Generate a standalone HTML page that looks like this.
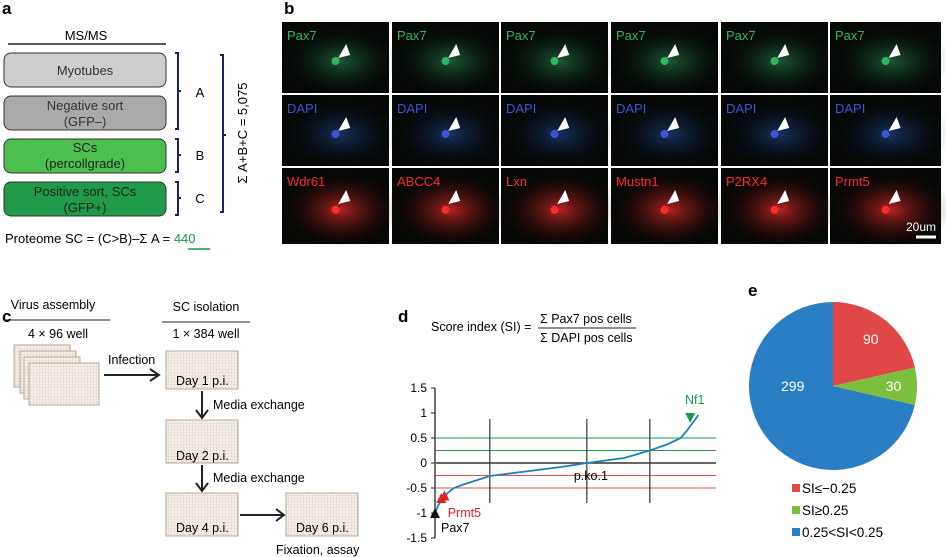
<!DOCTYPE html>
<html><head><meta charset="utf-8"><style>
body{margin:0;width:946px;height:557px;background:#fff;overflow:hidden;font-family:"Liberation Sans",sans-serif}
svg{position:absolute;left:0;top:0}
</style></head><body>
<svg width="946" height="557" viewBox="0 0 946 557" font-family="Liberation Sans, sans-serif">
<defs>
<pattern id="grid" width="3" height="3" patternUnits="userSpaceOnUse"><rect width="3" height="3" fill="#f4efe8"/><path d="M0 0H3M0 0V3" stroke="#cfc3b5" stroke-width="0.6"/></pattern>
<radialGradient id="gG"><stop offset="0" stop-color="#3fd080"/><stop offset="1" stop-color="#0a1a10" stop-opacity="0"/></radialGradient>
<radialGradient id="gB"><stop offset="0" stop-color="#3070e0"/><stop offset="1" stop-color="#0a0a20" stop-opacity="0"/></radialGradient>
<radialGradient id="gR"><stop offset="0" stop-color="#ff3030"/><stop offset="1" stop-color="#200505" stop-opacity="0"/></radialGradient>
</defs>

<!-- Panel a -->
<g>
<text x="2" y="14" font-size="17" font-weight="bold">a</text>
<text x="86" y="40" font-size="13" text-anchor="middle">MS/MS</text>
<line x1="8" y1="44" x2="166" y2="44" stroke="#222" stroke-width="1.5"/>
<rect x="4" y="53" width="162" height="34" rx="7" fill="#cdcdcd" stroke="#333"/>
<text x="85" y="75" font-size="13" text-anchor="middle" fill="#333">Myotubes</text>
<rect x="4" y="96" width="162" height="34" rx="7" fill="#a9a9a9" stroke="#333"/>
<text x="85" y="110" font-size="13" text-anchor="middle" fill="#333">Negative sort</text>
<text x="85" y="126" font-size="13" text-anchor="middle" fill="#333">(GFP–)</text>
<rect x="4" y="139" width="162" height="34" rx="7" fill="#4bbf4e" stroke="#333"/>
<text x="85" y="152" font-size="13" text-anchor="middle" fill="#222">SCs</text>
<text x="85" y="168" font-size="13" text-anchor="middle" fill="#222">(percollgrade)</text>
<rect x="4" y="182" width="162" height="34" rx="7" fill="#1f9a48" stroke="#333"/>
<text x="85" y="196" font-size="13" text-anchor="middle" fill="#222">Positive sort, SCs</text>
<text x="85" y="212" font-size="13" text-anchor="middle" fill="#222">(GFP+)</text>
<g stroke="#1a2060" stroke-width="2" fill="none">
<path d="M175 53h3v76h-3M178 91h3"/>
<path d="M175 139h3v33h-3M178 155h3"/>
<path d="M175 182h3v33h-3M178 198h3"/>
<path d="M220 55h3v157h-3M223 135h3"/>
</g>
<text x="200" y="97" font-size="13" text-anchor="middle">A</text>
<text x="200" y="160" font-size="13" text-anchor="middle">B</text>
<text x="200" y="203" font-size="13" text-anchor="middle">C</text>
<text x="247" y="133" font-size="13" text-anchor="middle" transform="rotate(-90 247 133)">Σ A+B+C = 5,075</text>
<text x="5" y="243" font-size="13">Proteome SC = (C&gt;B)–Σ A = <tspan fill="#1a9a48">440</tspan></text>
<line x1="188" y1="249" x2="210" y2="249" stroke="#1a9a48" stroke-width="1.5"/>
</g>

<!-- Panel b -->
<g>
<text x="284" y="14" font-size="17" font-weight="bold">b</text>
<g id="micro"></g>
</g>

<!-- Panel c -->
<g font-size="12.5">
<text x="2" y="322" font-size="17" font-weight="bold">c</text>
<text x="53" y="309" text-anchor="middle">Virus assembly</text>
<line x1="4" y1="320" x2="110" y2="320" stroke="#222"/>
<text x="58" y="338" text-anchor="middle">4 × 96 well</text>
<g stroke="#b8a898" fill="url(#grid)">
<rect x="14" y="345" width="56" height="42"/><rect x="20" y="351" width="56" height="42"/><rect x="24" y="357" width="56" height="42"/><rect x="29" y="363" width="70" height="42"/>
</g>
<text x="108" y="364">Infection</text>
<path d="M104 375H158" stroke="#222" stroke-width="2"/><path d="M150 369l9 6-9 6" stroke="#222" stroke-width="2" fill="none"/>
<text x="206" y="311" text-anchor="middle">SC isolation</text>
<line x1="162" y1="322" x2="250" y2="322" stroke="#222"/>
<text x="206" y="338" text-anchor="middle">1 × 384 well</text>
<rect x="166" y="351" width="72" height="38" fill="url(#grid)" stroke="#b8a898"/><text x="176" y="385">Day 1 p.i.</text>
<rect x="166" y="420" width="72" height="43" fill="url(#grid)" stroke="#b8a898"/><text x="176" y="460">Day 2 p.i.</text>
<rect x="166" y="493" width="72" height="43" fill="url(#grid)" stroke="#b8a898"/><text x="176" y="532">Day 4 p.i.</text>
<rect x="286" y="493" width="72" height="43" fill="url(#grid)" stroke="#b8a898"/><text x="296" y="532">Day 6 p.i.</text>
<text x="276" y="554">Fixation, assay</text>
<g stroke="#222" stroke-width="2" fill="none">
<path d="M202 391V418M196 410l6 8 6-8"/><path d="M202 465V491M196 483l6 8 6-8"/><path d="M240 515H284M276 509l8 6-8 6"/>
</g>
<text x="213" y="409">Media exchange</text>
<text x="213" y="482">Media exchange</text>
</g>

<!-- Panel d -->
<g>
<text x="398" y="322" font-size="17" font-weight="bold">d</text>
<text x="431" y="331" font-size="12.5">Score index (SI) =</text>
<text x="540" y="323" font-size="12.5">Σ Pax7 pos cells</text>
<line x1="538" y1="328" x2="636" y2="328" stroke="#222"/>
<text x="540" y="342" font-size="12.5">Σ DAPI pos cells</text>
<g id="chartd"></g>
</g>

<!-- Panel e -->
<g>
<text x="748" y="296" font-size="17" font-weight="bold">e</text>
<g id="pie"></g>
</g>
</svg>
<script>
const NS='http://www.w3.org/2000/svg';
function mk(p,t,a){const e=document.createElementNS(NS,t);for(const k in a)e.setAttribute(k,a[k]);p.appendChild(e);return e;}

// Panel b microscopy
const rowLabels=[['Pax7','Pax7','Pax7','Pax7','Pax7','Pax7'],['DAPI','DAPI','DAPI','DAPI','DAPI','DAPI'],['Wdr61','ABCC4','Lxn','Mustn1','P2RX4','Prmt5']];
const rowColors=['#2fb860','#3a55d8','#ff2a2a'];
const rowGrads=['url(#gG)','url(#gB)','url(#gR)'];
const colX=[282,392,501,611,721,830],rowY=[22,95,168],rowH=[71,71,76];
const micro=document.getElementById('micro');
for(let r=0;r<3;r++)for(let c=0;c<6;c++){
 const g=mk(micro,'g',{});
 
 
 const x=colX[c],y=rowY[r],w=(c==5?111:107);
 mk(g,'rect',{x:x,y:y,width:w,height:rowH[r],fill:'#060806'});
 mk(g,'ellipse',{cx:x+w*0.55,cy:y+rowH[r]*0.55,rx:w*0.55,ry:rowH[r]*0.5,fill:rowGrads[r],opacity:r==2?0.7:0.4});
 mk(g,'circle',{cx:x+w*0.5,cy:y+rowH[r]*0.55,r:4,fill:rowColors[r]});
 mk(g,'path',{d:`M${x+w*0.6} ${y+22}l-8 14l12 -3z`,fill:'#fff'});
 const t=mk(g,'text',{x:x+5,y:y+18,'font-size':13,fill:rowColors[r]});t.textContent=rowLabels[r][c];
}
mk(micro,'line',{x1:916,y1:237,x2:936,y2:237,stroke:'#fff','stroke-width':3});
const sb=mk(micro,'text',{x:906,y:231,'font-size':12,fill:'#fff'});sb.textContent='20um';

// Panel d chart data
const rankIdx=[0,5,10,20,30,45,87,150,200,241,300,341,370,390,400,410,418];
const siVals=[-1.0,-0.85,-0.75,-0.6,-0.5,-0.43,-0.26,-0.16,-0.08,0,0.1,0.25,0.38,0.5,0.65,0.82,0.96];
const yTicks=[1.5,1,0.5,0,-0.5,-1,-1.5];
const yTickLabels=['1.5','1','0.5','0','-0.5','-1','-1.5'];
const hLines=[0.5,0.25,0,-0.25,-0.5];
const hColors=['#1f9a55','#1f9a55','#333','#e05050','#e05050'];
const vRanks=[87,241,341];
const nGenes=419;
const X=i=>435+i/nGenes*264;
const Y=v=>463-v*50;
const cd=document.getElementById('chartd');
const ax=mk(cd,'path',{d:`M${X(0)} ${Y(1.5)}V${Y(-1.5)}`,stroke:'#222','stroke-width':1.3,fill:'none'});

yTicks.forEach((v,i)=>{
 mk(cd,'line',{x1:X(0)-4,y1:Y(v),x2:X(0),y2:Y(v),stroke:'#222'});
 const t=mk(cd,'text',{x:X(0)-8,y:Y(v)+4,'font-size':12,'text-anchor':'end'});
 
 t.textContent=yTickLabels[i];
});
hLines.forEach((v,i)=>{const l=mk(cd,'line',{x1:X(0)+1,y1:Y(v),x2:716,y2:Y(v),stroke:hColors[i],'stroke-width':v==0?1.6:1.1});
 });
vRanks.forEach(r=>{const l=mk(cd,'line',{x1:X(r),y1:419,x2:X(r),y2:503,stroke:'#333','stroke-width':1.2});
 });
const curve=mk(cd,'polyline',{points:rankIdx.map((r,i)=>X(r)+','+Y(siVals[i])).join(' '),fill:'none',stroke:'#1f7fc0','stroke-width':1.8});

const pk=mk(cd,'text',{x:X(241)-13,y:Y(0)+17,'font-size':12.5});pk.textContent='p.ko.1';
mk(cd,'path',{d:`M${X(0)-5} ${Y(-1)+5}l5 -10l5 10z`,fill:'#111'});
const p7=mk(cd,'text',{x:X(0)+6,y:Y(-1.3)+4,'font-size':12.5});p7.textContent='Pax7';
mk(cd,'path',{d:`M${X(10)-5} ${Y(-0.7)+5}l5 -10l5 10zM${X(15)-5} ${Y(-0.65)+5}l5 -10l5 10z`,fill:'#e52222'});
const pr=mk(cd,'text',{x:X(17)+2,y:Y(-1)+4,'font-size':12.5,fill:'#e52222'});pr.textContent='Prmt5';
mk(cd,'path',{d:`M${X(405)-5} ${Y(0.9)-5}l5 10l5 -10z`,fill:'#1a9a55'});
const nf=mk(cd,'text',{x:X(400)-2,y:Y(1.18),'font-size':12.5,fill:'#1a9a55'});nf.textContent='Nf1';

// Panel e pie
const pieLabels=['SI≤−0.25','SI≥0.25','0.25<SI<0.25'];
const pieVals=[90,30,299];
const pieColors=['#e04848','#7cbf3e','#2a7fc4'];
const pie=document.getElementById('pie');
const cx=833,cy=386,R=84,tot=pieVals.reduce((a,b)=>a+b,0);
let a0=0;
pieVals.forEach((v,i)=>{
 const a1=a0+v/tot*2*Math.PI;
 const p=(a)=>[cx+R*Math.sin(a),cy-R*Math.cos(a)];
 const [x0,y0]=p(a0),[x1,y1]=p(a1);
 const s=mk(pie,'path',{d:`M${cx} ${cy}L${x0} ${y0}A${R} ${R} 0 ${a1-a0>Math.PI?1:0} 1 ${x1} ${y1}Z`,fill:pieColors[i]});
 
 const am=i==2?1.5*Math.PI:(a0+a1)/2,lr=i==2?R*0.48:R*0.72;
 const t=mk(pie,'text',{x:cx+lr*Math.sin(am),y:cy-lr*Math.cos(am)+5,'font-size':14,fill:'#fff','text-anchor':'middle'});
 t.textContent=v;
 const ly=489+i*22;
 const sq=mk(pie,'rect',{x:792,y:ly-5,width:8,height:8,fill:pieColors[i]});
 
 const lt=mk(pie,'text',{x:802,y:ly+4,'font-size':13.5});
 
 lt.textContent=pieLabels[i];
 a0=a1;
});
</script>
</body></html>
